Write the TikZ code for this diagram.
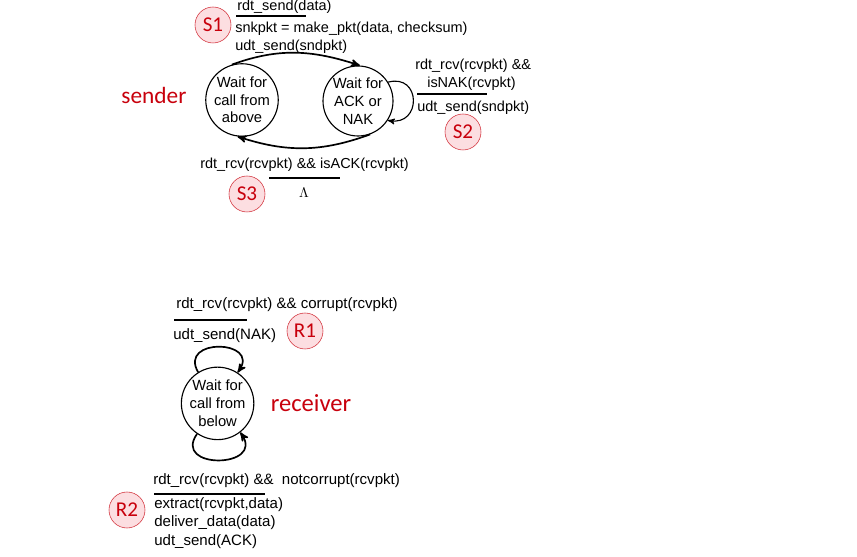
\documentclass[tikz,border=0pt]{standalone}
\usepackage{fontspec}
\setmainfont{Liberation Sans}
\newfontfamily\badgefont{Carlito}
\usepackage{tikz}
\usetikzlibrary{arrows}
\definecolor{darkred}{RGB}{200,0,12}
\definecolor{badgepink}{RGB}{252,222,225}
\tikzset{
state/.style={circle, draw, thick, minimum size=1.75cm, inner sep=0pt, align=center, font=\fontsize{10.5}{12.6}\selectfont},
action/.style={rectangle, draw=none, right, inner sep=0pt, yshift=-0.05cm, font=\fontsize{10.3}{12}\selectfont},
raction/.style={action, font=\fontsize{10.7}{12}\selectfont},
badge/.style={circle, draw=darkred!80, fill=badgepink, text=darkred, minimum size=0.9cm, inner sep=0pt, font=\badgefont\fontsize{15}{16}\selectfont},
side/.style={rectangle, draw=none, text=darkred, inner sep=0pt, font=\badgefont\fontsize{17.5}{20}\selectfont},
trans/.style={-stealth', line width=1.2pt},
bar/.style={line width=0.9pt}
}

\begin{document}
\begin{tikzpicture}
\coordinate (SouthWest) at (0,0);
\coordinate (NorthEast) at (21.425,13.925);
\useasboundingbox (SouthWest) rectangle (NorthEast);

%%% Sender
\node[state] (waitAbove) at (6.05,11.425) {Wait for\\call from\\above};
\node[state] (waitAck) at (8.95,11.4) {Wait for\\ACK or\\NAK};
\node[side, font=\badgefont\fontsize{16.6}{20}\selectfont] (sender) at (3.85,11.55) {sender};

\draw[trans] (waitAbove.106) to[out=20,in=162] (waitAck.87);
\draw[trans] (waitAck.-70) to[out=-160,in=-18] (waitAbove.-97);
\draw[-stealth', thick] (waitAck.32) to[out=15,in=-10,looseness=2.3] (waitAck.-33);

%%% S1
\node[badge] (sOne) at (5.325,13.3) {S1};
\node[action] (sendData) at (5.925,13.8) {rdt\_send(data)};
\node[action] (makePkt) at (5.875,13.25) {snkpkt = make\_pkt(data, checksum)};
\node[action] (sendPkt) at (5.875,12.8) {udt\_send(sndpkt)};
\coordinate (sOneBarL) at (5.9,13.525);
\coordinate (sOneBarR) at (7.65,13.525);
\draw[bar] (sOneBarL) -- (sOneBarR);

%%% S2
\node[badge] (sTwo) at (11.575,10.625) {S2};
\node[action] (rcvNak) at (10.375,12.325) {rdt\_rcv(rcvpkt) \&\&};
\node[action] (isNak) at (10.675,11.875) {isNAK(rcvpkt)};
\node[action] (resendPkt) at (10.425,11.275) {udt\_send(sndpkt)};
\coordinate (sTwoBarL) at (10.425,11.575);
\coordinate (sTwoBarR) at (12.175,11.575);
\draw[bar] (sTwoBarL) -- (sTwoBarR);

%%% S3
\node[badge] (sThree) at (6.175,9.075) {S3};
\node[action] (rcvAck) at (5,9.85) {rdt\_rcv(rcvpkt) \&\& isACK(rcvpkt)};
\node[rectangle, draw=none, inner sep=0pt] (lambda) at (7.6,9.1) {$\Lambda$};
\coordinate (sThreeBarL) at (6.725,9.475);
\coordinate (sThreeBarR) at (8.5,9.475);
\draw[bar] (sThreeBarL) -- (sThreeBarR);

%%% Receiver
\node[state] (waitBelow) at (5.44,3.84) {Wait for\\call from\\below};
\node[side] (receiver) at (7.775,3.85) {receiver};

\draw[trans] (waitBelow.122) to[out=120,in=55,looseness=2.6] (waitBelow.57);
\draw[trans] (waitBelow.-124) to[out=-125,in=-55,looseness=2.6] (waitBelow.-52);

%%% R1
\node[badge] (rOne) at (7.625,5.65) {R1};
\node[raction] (rcvCorrupt) at (4.4,6.35) {rdt\_rcv(rcvpkt) \&\& corrupt(rcvpkt)};
\node[raction] (sendNak) at (4.325,5.575) {udt\_send(NAK)};
\coordinate (rOneBarL) at (4.35,5.925);
\coordinate (rOneBarR) at (6.175,5.925);
\draw[bar] (rOneBarL) -- (rOneBarR);

%%% R2
\node[badge] (rTwo) at (3.175,1.175) {R2};
\node[raction] (rcvGood) at (3.825,1.95) {rdt\_rcv(rcvpkt) \&\& \ notcorrupt(rcvpkt)};
\node[raction] (extractPkt) at (3.85,1.35) {extract(rcvpkt,data)};
\node[raction] (deliverData) at (3.85,0.9) {deliver\_data(data)};
\node[raction] (sendAck) at (3.85,0.425) {udt\_send(ACK)};
\coordinate (rTwoBarL) at (3.85,1.575);
\coordinate (rTwoBarR) at (6.625,1.575);
\draw[bar] (rTwoBarL) -- (rTwoBarR);

\end{tikzpicture}
\end{document}
